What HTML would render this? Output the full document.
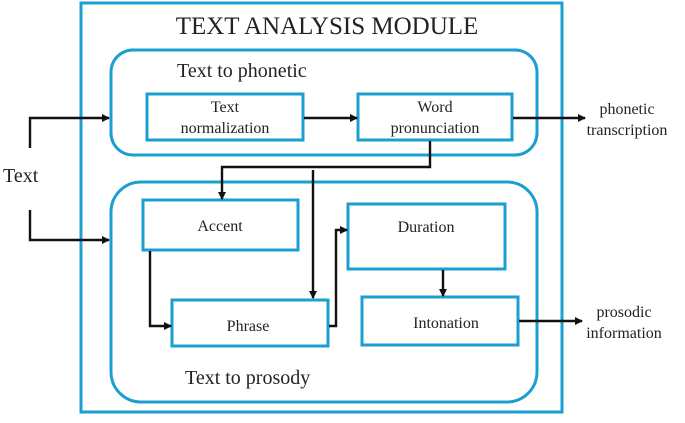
<!DOCTYPE html>
<html><head><style>
body{margin:0;background:#fff}
text{font-family:"Liberation Serif",serif;fill:#222}
</style></head><body>
<svg width="685" height="418" viewBox="0 0 685 418" xmlns="http://www.w3.org/2000/svg">
<defs><marker id="a" markerWidth="8" markerHeight="8" refX="7" refY="4" orient="auto" markerUnits="userSpaceOnUse"><path d="M0,0 L8,4 L0,8 z" fill="#111"/></marker></defs>
<g fill="none" stroke="#1a9fd0" stroke-width="3">
<rect x="81" y="3" width="481" height="409"/>
<rect x="111" y="50" width="426" height="105" rx="22"/>
<rect x="111" y="182" width="426" height="220" rx="30"/>
<rect x="147" y="94" width="156" height="46"/>
<rect x="358" y="94" width="154" height="46"/>
<rect x="143" y="200" width="155" height="50"/>
<rect x="348" y="204" width="157" height="65"/>
<rect x="172" y="300" width="156" height="46"/>
<rect x="362" y="297" width="156" height="48"/>
</g>
<g fill="none" stroke="#111" stroke-width="2.4" marker-end="url(#a)">
<polyline points="30,148 30,118 109,118"/>
<polyline points="30,210 30,240 109,240"/>
<line x1="304" y1="118" x2="357" y2="118"/>
<line x1="513" y1="118" x2="585" y2="118"/>
<polyline points="430,141 430,167 222,167 222,199"/>
<line x1="313" y1="170" x2="313" y2="298"/>
<polyline points="150,251 150,326 171,326"/>
<polyline points="329,326 336,326 336,230 347,230"/>
<line x1="443" y1="270" x2="443" y2="296"/>
<line x1="519" y1="321" x2="582" y2="321"/>
</g>
<text x="327" y="34" font-size="25" text-anchor="middle">TEXT ANALYSIS MODULE</text>
<text x="177" y="77" font-size="20">Text to phonetic</text>
<text x="185" y="384" font-size="20">Text to prosody</text>
<text x="3" y="182" font-size="20">Text</text>
<g font-size="16" text-anchor="middle">
<text x="225" y="112">Text</text><text x="225" y="133">normalization</text>
<text x="435" y="112">Word</text><text x="435" y="133">pronunciation</text>
<text x="220" y="231">Accent</text>
<text x="426" y="232">Duration</text>
<text x="248" y="331">Phrase</text>
<text x="446" y="328">Intonation</text>
<text x="627" y="114">phonetic</text><text x="627" y="135">transcription</text>
<text x="624" y="317">prosodic</text><text x="624" y="338">information</text>
</g>
</svg>
</body></html>
